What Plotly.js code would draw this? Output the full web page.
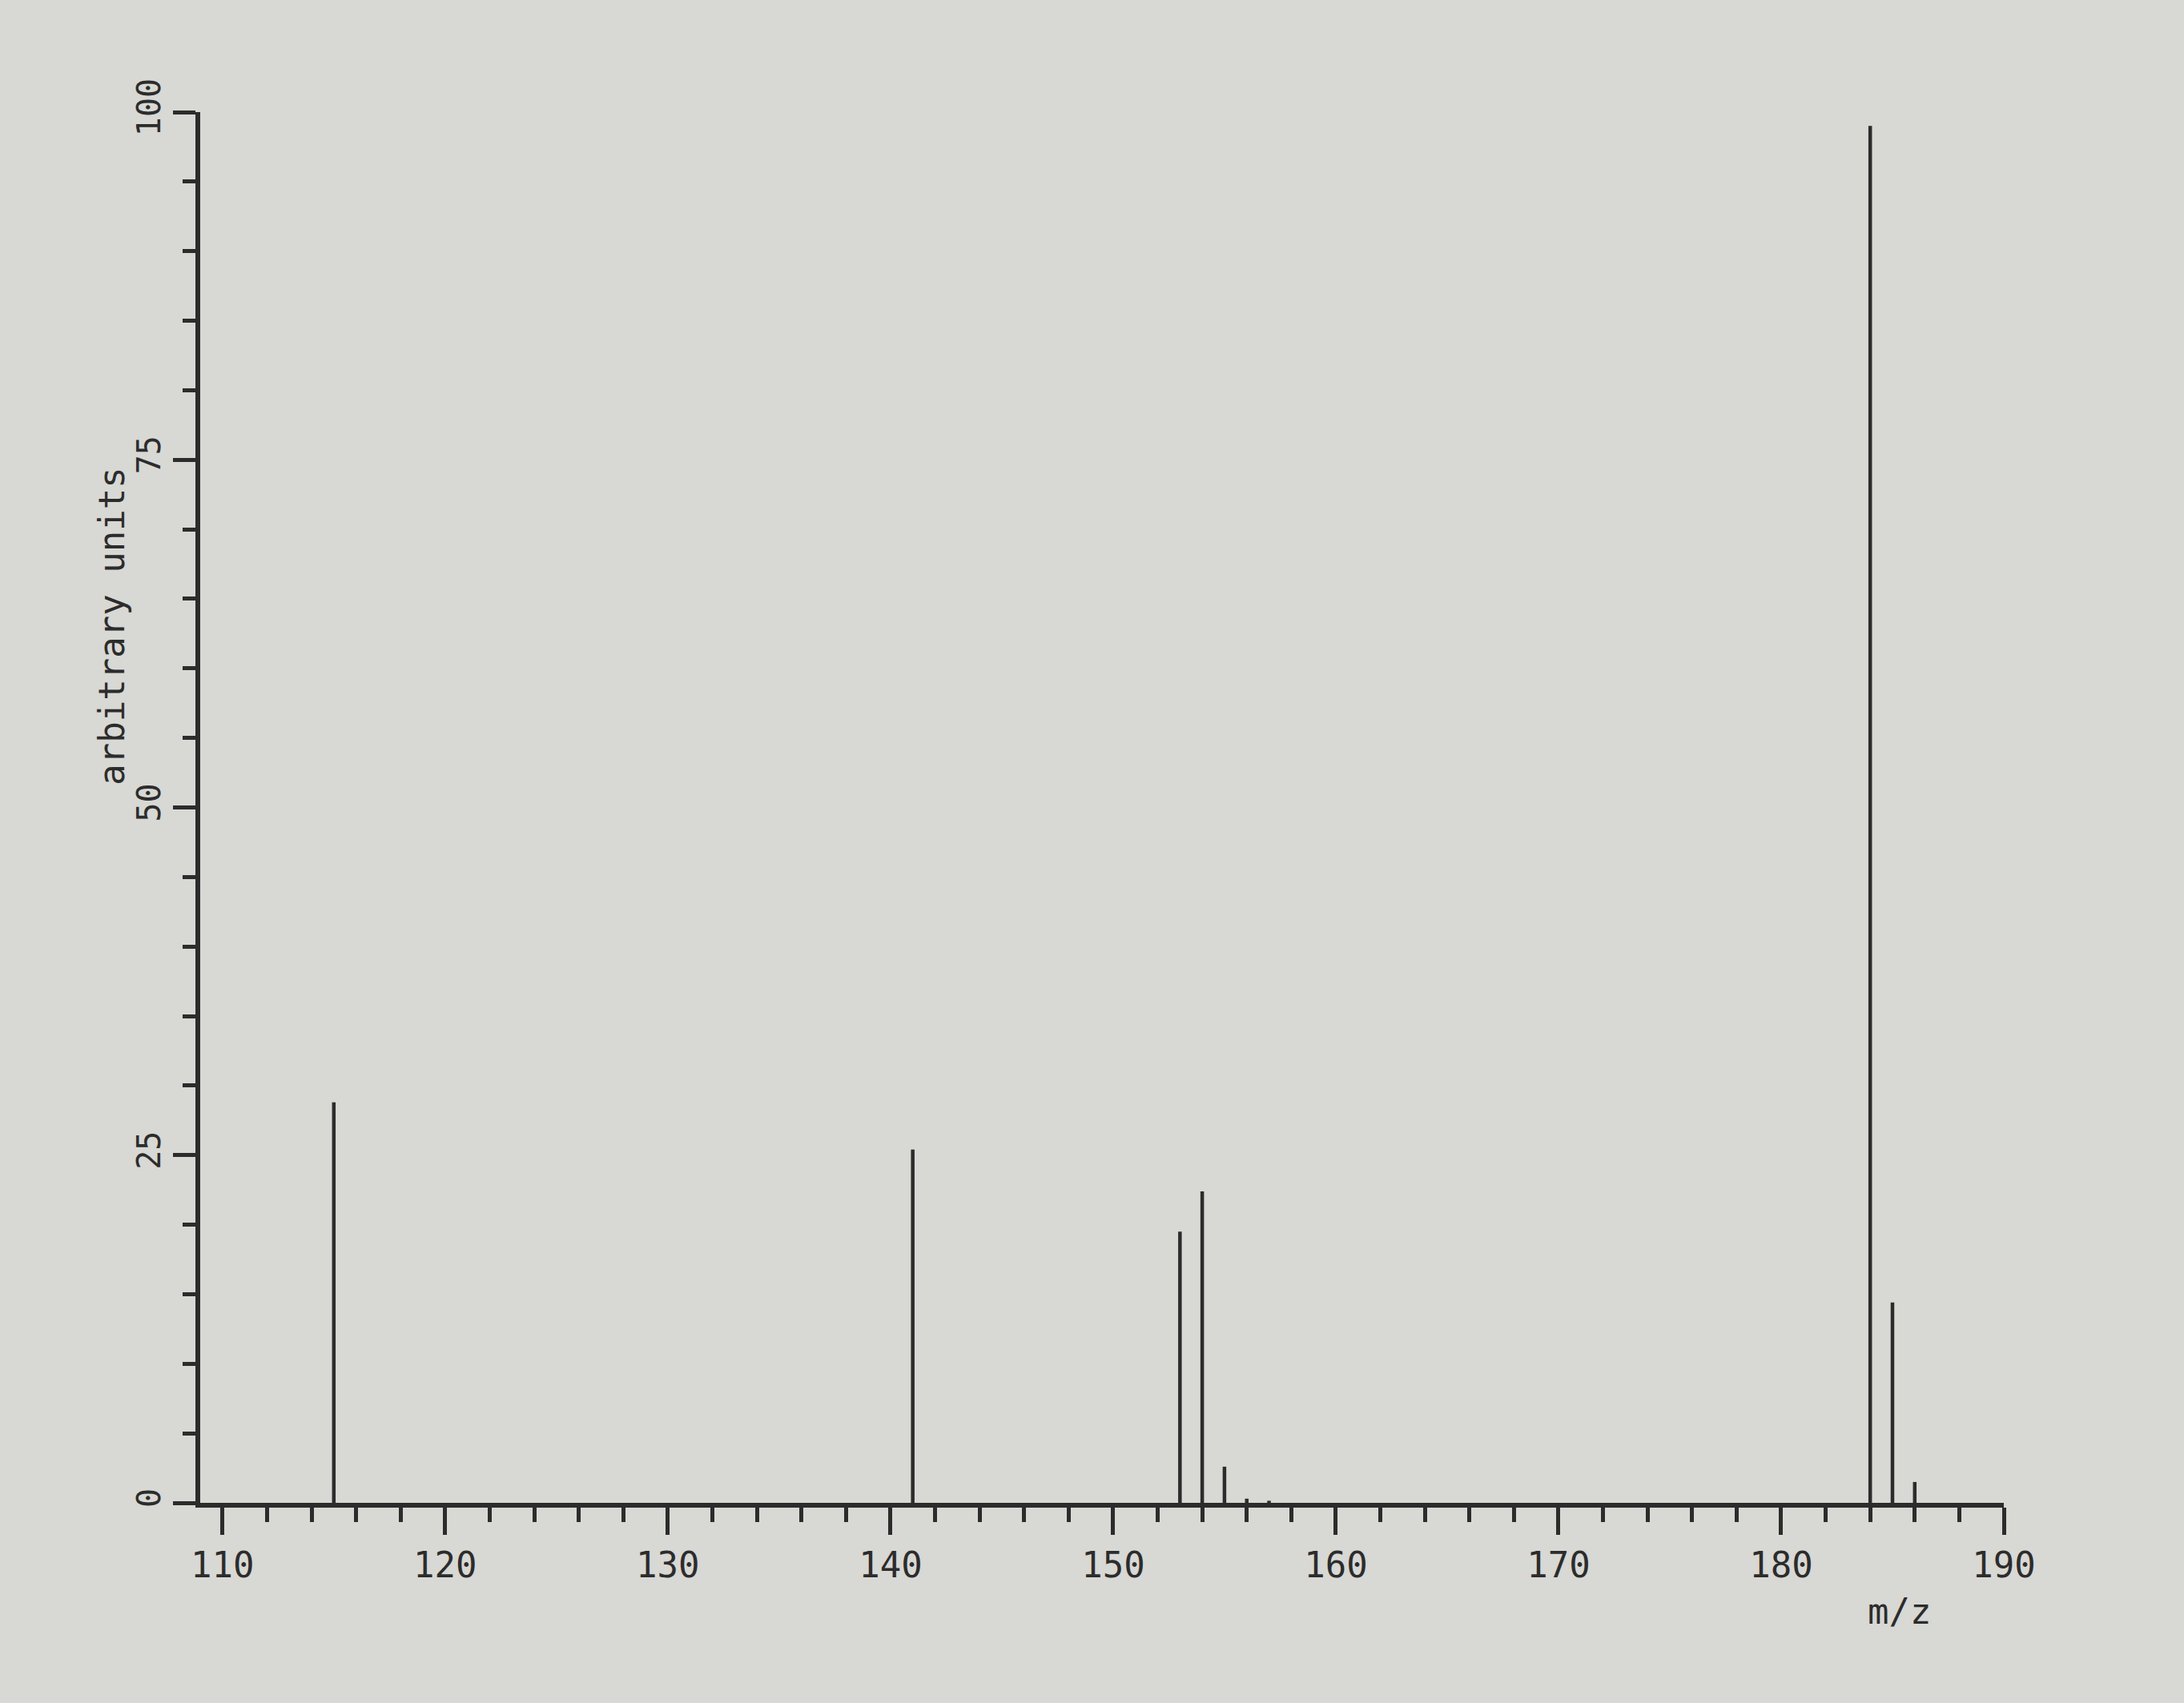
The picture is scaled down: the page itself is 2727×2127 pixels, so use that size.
<!DOCTYPE html>
<html>
<head>
<meta charset="utf-8">
<script src="https://cdn.plot.ly/plotly-3.0.1.min.js"></script>
<style>
  html, body { margin: 0; padding: 0; background: #d8d8d4; }
  #chart { width: 2727px; height: 2127px; }
</style>
</head>
<body>
<div id="chart"></div>
<script>
// m/z values of the peaks and their intensities (arbitrary units)
const mz = [115, 141, 153, 154, 155, 156, 157, 184, 185, 186];
const intensity = [28.8, 25.4, 19.5, 22.4, 2.6, 0.3, 0.15, 99, 14.4, 1.5];

// axis ticks
const xTickVals = [110, 120, 130, 140, 150, 160, 170, 180, 190];
const xTickText = ['110', '120', '130', '140', '150', '160', '170', '180', '190'];
const yTickVals = [0, 25, 50, 75, 100];
const yTickText = ['0', '25', '50', '75', '100'];

const ink = '#2c2c2c';
const fontFamily = "'DejaVu Sans Mono', 'Liberation Mono', monospace";

// stick spectrum: one vertical segment per peak
const sx = [], sy = [];
mz.forEach((m, i) => { sx.push(m, m, null); sy.push(0, intensity[i], null); });

const trace = {
  type: 'scatter',
  mode: 'lines',
  x: sx,
  y: sy,
  line: { color: ink, width: 4.5 },
  hoverinfo: 'skip',
  showlegend: false
};

const layout = {
  width: 2727,
  height: 2127,
  paper_bgcolor: '#d8d8d4',
  plot_bgcolor: '#d8d8d4',
  margin: { l: 250, r: 225, t: 140, b: 250 },
  font: { family: fontFamily, size: 44, color: ink },
  showlegend: false,
  xaxis: {
    range: [109, 190],
    showgrid: false,
    zeroline: false,
    showline: true,
    linecolor: ink,
    linewidth: 6,
    ticks: 'outside',
    ticklen: 34,
    tickwidth: 5,
    tickcolor: ink,
    tickmode: 'array',
    tickvals: xTickVals,
    ticktext: xTickText,
    tickfont: { family: fontFamily, size: 44, color: ink },
    minor: { dtick: 2, tick0: 110, ticks: 'outside', ticklen: 18, tickwidth: 5, tickcolor: ink, showgrid: false }
  },
  yaxis: {
    range: [0, 100],
    showgrid: false,
    zeroline: false,
    showline: true,
    linecolor: ink,
    linewidth: 6,
    ticks: 'outside',
    ticklen: 28,
    tickwidth: 5,
    tickcolor: ink,
    tickmode: 'array',
    tickvals: yTickVals,
    ticktext: yTickText,
    tickangle: -90,
    tickfont: { family: fontFamily, size: 40, color: ink },
    minor: { dtick: 5, tick0: 0, ticks: 'outside', ticklen: 16, tickwidth: 5, tickcolor: ink, showgrid: false }
  },
  annotations: [
    {
      text: 'arbitrary units',
      xref: 'paper', yref: 'y',
      x: 0, y: 63,
      xanchor: 'center', yanchor: 'middle',
      xshift: -110,
      textangle: -90,
      showarrow: false,
      font: { family: fontFamily, size: 44, color: ink }
    },
    {
      text: 'm/z',
      xref: 'x', yref: 'paper',
      x: 185.3, y: 0,
      xanchor: 'center', yanchor: 'top',
      yshift: -108,
      showarrow: false,
      font: { family: fontFamily, size: 44, color: ink }
    }
  ]
};

Plotly.newPlot('chart', [trace], layout, { staticPlot: true, displayModeBar: false });
</script>
</body>
</html>
